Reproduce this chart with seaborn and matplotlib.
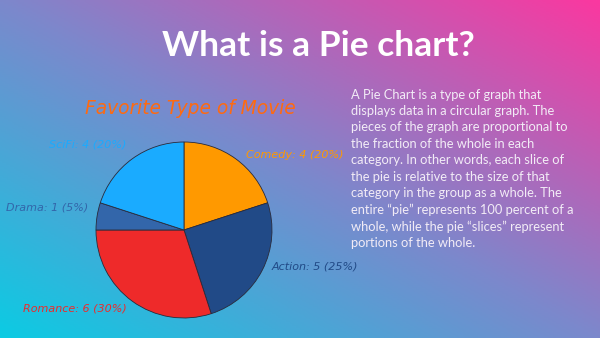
import numpy as np
import matplotlib
matplotlib.use("Agg")
import matplotlib.pyplot as plt
from matplotlib.colors import LinearSegmentedColormap
import seaborn as sns

# ---- data ----
categories = ["Comedy", "Action", "Romance", "Drama", "SciFi"]
counts = [4, 5, 6, 1, 4]
slice_colors = ["#ff9900", "#214a87", "#ee2a2a", "#3366aa", "#1aabff"]
chart_title = "Favorite Type of Movie"
heading = "What is a Pie chart?"
paragraph_lines = [
    "A Pie Chart is a type of graph that",
    "displays data in a circular graph. The",
    "pieces of the graph are proportional to",
    "the fraction of the whole in each",
    "category. In other words, each slice of",
    "the pie is relative to the size of that",
    "category in the group as a whole. The",
    "entire \u201cpie\u201d represents 100 percent of a",
    "whole, while the pie \u201cslices\u201d represent",
    "portions of the whole.",
]

sns.set_theme(style="white")
plt.rcParams["font.family"] = ["DejaVu Sans"]

fig = plt.figure(figsize=(6.0, 3.38), dpi=100)

# ---- gradient background ----
bg = fig.add_axes([0, 0, 1, 1], zorder=0)
bg.set_axis_off()
xx, yy = np.meshgrid(np.linspace(0, 1, 300), np.linspace(0, 1, 170))
t = (xx + yy) / 2.0
cmap = LinearSegmentedColormap.from_list(
    "slide", [(0.0, "#0ccbe3"), (0.5, "#7c88cc"), (1.0, "#fa38a0")])
bg.imshow(t, cmap=cmap, origin="lower", extent=[0, 1, 0, 1], aspect="auto",
          vmin=0, vmax=1)
bg.set_xlim(0, 1)
bg.set_ylim(0, 1)

# ---- heading & paragraph ----
fig.text(0.53, 0.865, heading, ha="center", va="center", color="white",
         fontsize=25.5, fontweight="bold", family=["Lato", "DejaVu Sans"])
fig.text(0.585, 0.738, "\n".join(paragraph_lines), ha="left", va="top",
         color="#f2ecf6", fontsize=9.3, fontweight="normal",
         family=["Lato", "DejaVu Sans"], linespacing=1.44)

# ---- pie ----
ax = fig.add_axes([0.16, 0.0592, 0.2933, 0.5207], zorder=2)
total = sum(counts)
wedges, _ = ax.pie(counts, colors=slice_colors, startangle=90, counterclock=False,
                   radius=1.0, wedgeprops=dict(edgecolor="#2a2a3a", linewidth=0.6))
ax.set_xlim(-1, 1)
ax.set_ylim(-1, 1)
ax.set_aspect("equal")
ax.set_axis_off()

label_pos = {
    "Comedy": (0.71, 0.85, "left"),
    "Action": (0.99, -0.42, "left"),
    "Romance": (-0.65, -0.89, "right"),
    "Drama": (-1.09, 0.25, "right"),
    "SciFi": (-0.65, 0.97, "right"),
}
for cat, n, col in zip(categories, counts, slice_colors):
    x, y, ha = label_pos[cat]
    ax.text(x, y, f"{cat}: {n} ({n / total:.0%})", ha=ha, va="center",
            color=col, fontsize=8.0, style="italic", clip_on=False)

ax.text(0.07, 1.38, chart_title, ha="center", va="center", color="#ff6a10",
        fontsize=13.4, style="italic", clip_on=False)

fig.savefig("out.png", dpi=100)
